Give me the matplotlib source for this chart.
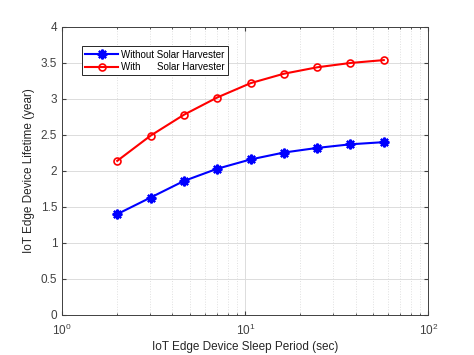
import numpy as np
import matplotlib.pyplot as plt

plt.rcParams['font.family'] = ['Liberation Sans', 'DejaVu Sans']

sleep_period = [2.0, 3.04, 4.62, 7.02, 10.7, 16.2, 24.7, 37.5, 57.0]
without_solar = [1.40, 1.63, 1.86, 2.03, 2.16, 2.255, 2.32, 2.37, 2.40]
with_solar = [2.14, 2.49, 2.78, 3.02, 3.22, 3.35, 3.44, 3.50, 3.54]
labels = ['Without Solar Harvester', 'With      Solar Harvester']

fig = plt.figure(figsize=(4.74, 3.55), dpi=100)
ax = fig.add_axes([0.131, 0.113, 0.773, 0.811])

# matlab-ish asterisk marker
ax.plot(sleep_period, without_solar, color='#0000ff', marker=(8, 2, 0), markersize=7,
        markeredgewidth=1.6, linewidth=1.5, label=labels[0])
ax.plot(sleep_period, with_solar, color='#ff0000', marker='o', markersize=5,
        markerfacecolor='none', markeredgewidth=1.2, linewidth=1.5, label=labels[1])

ax.set_xscale('log')
ax.set_xlim(1, 100)
ax.set_ylim(0, 4)
ax.set_yticks(np.arange(0, 4.01, 0.5))
ax.set_yticklabels(['0', '0.5', '1', '1.5', '2', '2.5', '3', '3.5', '4'])

ax.grid(True, which='major', color='#dcdcdc', linewidth=0.7)
ax.grid(True, which='minor', color='#e0e0e0', linestyle=':', linewidth=0.7)
ax.set_axisbelow(True)

ax.tick_params(which='both', direction='in', top=True, right=True,
               labelsize=8.5, colors='#404040', length=3)
ax.tick_params(which='minor', length=1.5)
ax.tick_params(axis='x', which='major', pad=6)
for sp in ax.spines.values():
    sp.set_color('#404040')
    sp.set_linewidth(0.7)

ax.set_xlabel('IoT Edge Device Sleep Period (sec)', fontsize=8.5, color='#262626', labelpad=2)
ax.set_ylabel('IoT Edge Device Lifetime (year)', fontsize=8.5, color='#262626')

leg = ax.legend(loc='upper left', bbox_to_anchor=(0.04, 0.95), fontsize=7,
                fancybox=False, framealpha=1, edgecolor='#262626',
                handlelength=3.4, borderpad=0.35, labelspacing=0.25, handletextpad=0.3)
leg.get_frame().set_linewidth(0.7)

fig.savefig('out.png', dpi=100)
